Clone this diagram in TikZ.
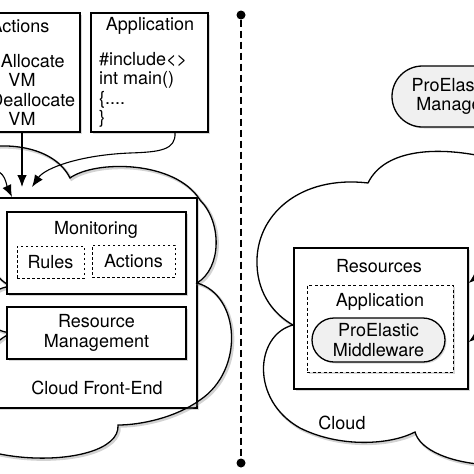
\documentclass[tikz,border=0pt]{standalone}
\usepackage{fontspec}
\setmainfont{TeX Gyre Heros}
\usetikzlibrary{arrows.meta,shapes.misc,shadows,calc,positioning}

\tikzset{
  every node/.style={font=\fontsize{18}{19.5}\selectfont},
  shade/.style={drop shadow={shadow xshift=1.5pt,shadow yshift=-1.5pt,opacity=0.3}},
  box/.style={draw, line width=1.3pt, fill=white, inner sep=0pt, align=center, shade},
  rulebox/.style={draw, line width=1pt, dash pattern=on 2.5pt off 2.5pt, inner sep=0pt},
  appdash/.style={draw, line width=1pt, dash pattern=on 3pt off 2.5pt, fill=white, inner sep=0pt, shade},
  pill/.style={rounded rectangle, draw, line width=1.3pt, fill=gray!12, inner sep=1pt, align=center, shade},
  txt/.style={align=center, inner sep=0pt},
  flow/.style={-{Latex[length=12pt,width=9.5pt]}, line width=1.1pt},
  divider/.style={dash pattern=on 7pt off 4pt, line width=1.2pt},
  enddot/.style={circle, fill, inner sep=0pt, minimum size=9pt},
  cloudline/.style={line width=1.3pt},
  cloudshade/.style={line width=2.5pt, draw=gray, opacity=0.35}
}

\newcommand{\fecloud}{(-30,150) .. controls (10,140) and (55,148) .. (70,178)
  .. controls (95,160) and (175,160) .. (200,200)
  .. controls (222,222) and (222,268) .. (197,283)
  .. controls (240,295) and (245,370) .. (200,400)
  .. controls (175,418) and (140,425) .. (118,425)
  .. controls (120,450) and (70,462) .. (20,457)
  .. controls (0,455) and (-20,450) .. (-30,445)
  .. controls (-40,400) and (-20,345) .. (12,333)
  .. controls (-25,330) and (-25,290) .. (12,286)
  .. controls (-15,280) and (-40,200) .. (-30,150) -- cycle}
\newcommand{\appcloud}{(490,158) .. controls (440,146) and (385,148) .. (368,183)
  .. controls (300,175) and (255,215) .. (257,265)
  .. controls (258,295) and (275,315) .. (293,325)
  .. controls (255,335) and (250,400) .. (300,428)
  .. controls (340,448) and (390,445) .. (415,432)
  .. controls (420,450) and (450,463) .. (490,465)
  -- (520,465) -- (520,158) -- cycle}

\begin{document}
\begin{tikzpicture}[x=1pt,y=-1pt]
  \useasboundingbox (0,0) rectangle (474,474);
  \clip (0,0) rectangle (474,474);

  % user side
  \node[box, minimum width=120pt, minimum height=119pt] (actbox) at (20,72.5) {};
  \node[box, minimum width=117pt, minimum height=119pt] (appbox) at (149.5,72.5) {};
  \node[txt] (acttitle) at (20,26) {Actions};
  \node[txt] (actlist) at (22,90) {1: Allocate\\VM\\2: Deallocate\\VM};
  \node[txt] (apptitle) at (150,26) {Application};
  \node[txt, align=left, anchor=west] (appcode) at (99,90) {\#include<>\\int main()\\\{....\\\}};

  % cloud front-end
  \node[box, minimum width=237pt, minimum height=210pt] (fe) at (78.5,303) {};
  \node[txt] (felabel) at (97,388) {Cloud Front-End};
  \begin{scope}[xshift=1.5pt,yshift=-1.5pt]
    \draw[cloudshade] \fecloud;
  \end{scope}
  \draw[cloudline] \fecloud;
  \node[box, minimum width=179pt, minimum height=82pt] (mon) at (96.5,253) {};
  \node[txt] (montitle) at (96,230) {Monitoring};
  \node[rulebox, minimum width=67pt, minimum height=32pt] (rules) at (50.5,262) {Rules};
  \node[rulebox, minimum width=83pt, minimum height=32pt] (acts) at (133.5,261) {Actions};
  \node[box, minimum width=179pt, minimum height=52pt] (rm) at (96.5,333) {Resource\\Management};

  \coordinate (extin) at (-8,170);
  \coordinate (feinA) at (12,197);
  \coordinate (feinB) at (22,187);
  \coordinate (feinC) at (32,187);
  \draw[flow] (extin) to[out=0,in=115] (feinA);
  \draw[flow] (actbox.south -| feinB) -- (feinB);
  \draw[flow] ([xshift=25.5pt]appbox.south) .. controls (176,150) and (160,152) .. (130,153)
    .. controls (80,155) and (45,168) .. (feinC);

  % divider
  \node[enddot] (dtop) at (241,15) {};
  \node[enddot] (dbot) at (241,463) {};
  \draw[divider] (dtop) -- (dbot);

  % proelastic side
  \node[pill, minimum width=122pt, minimum height=61pt] (mgr) at (452,96.5) {ProElastic\\Manager};
  \begin{scope}[xshift=1.5pt,yshift=-1.5pt]
    \draw[cloudshade] \appcloud;
  \end{scope}
  \draw[cloudline, fill=white] \appcloud;
  \node[box, minimum width=174pt, minimum height=141pt] (res) at (381,318.5) {};
  \node[txt] (restitle) at (379,266) {Resources};
  \node[appdash, minimum width=146pt, minimum height=87pt] (app) at (380,328.5) {};
  \node[txt] (apptitle2) at (380,302) {Application};
  \node[pill, minimum width=135pt, minimum height=44pt] (mw) at (378.5,340) {ProElastic\\Middleware};
  \node[txt] (cloudlabel) at (342,423) {Cloud};

  \coordinate (mgrA) at (495,262);
  \coordinate (mgrB) at (495,322);
  \draw[flow] (mgrA) -- (res.east |- 0,283);
  \draw[flow] (mgrB) -- (res.east |- 0,342);
\end{tikzpicture}
\end{document}
